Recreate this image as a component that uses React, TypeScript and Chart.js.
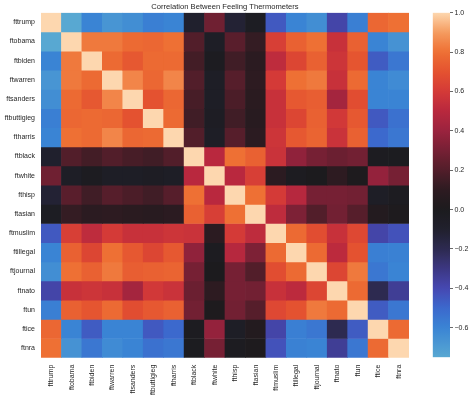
import React, { useEffect, useRef } from 'react';
import { Chart, registerables } from 'chart.js';

Chart.register(...registerables);

// ---- data ----
const variables = [
  'fttrump', 'ftobama', 'ftbiden', 'ftwarren', 'ftsanders', 'ftbuttigieg', 'ftharris',
  'ftblack', 'ftwhite', 'fthisp', 'ftasian', 'ftmuslim', 'ftillegal', 'ftjournal',
  'ftnato', 'ftun', 'ftice', 'ftnra',
];

// upper triangle of the correlation matrix, each row starting at its diagonal
const corrUpper: number[][] = [
  [1, -0.75, -0.6, -0.67, -0.64, -0.58, -0.6, -0.1, 0.28, -0.12, -0.03, -0.45, -0.6, -0.64, -0.38, -0.58, 0.77, 0.8],
  [1, 0.82, 0.82, 0.78, 0.77, 0.8, 0.2, -0.05, 0.22, 0.12, 0.62, 0.75, 0.8, 0.55, 0.75, -0.6, -0.66],
  [1, 0.78, 0.72, 0.78, 0.78, 0.16, -0.02, 0.15, 0.09, 0.52, 0.65, 0.75, 0.57, 0.71, -0.46, -0.55],
  [1, 0.85, 0.77, 0.85, 0.2, -0.05, 0.21, 0.1, 0.6, 0.8, 0.82, 0.55, 0.78, -0.6, -0.63],
  [1, 0.7, 0.77, 0.17, -0.05, 0.18, 0.08, 0.55, 0.72, 0.74, 0.43, 0.68, -0.6, -0.6],
  [1, 0.78, 0.15, -0.04, 0.15, 0.07, 0.55, 0.65, 0.75, 0.59, 0.72, -0.45, -0.53],
  [1, 0.2, -0.05, 0.21, 0.09, 0.57, 0.72, 0.76, 0.56, 0.75, -0.5, -0.55],
  [1, 0.5, 0.8, 0.75, 0.56, 0.37, 0.3, 0.27, 0.29, -0.02, -0.01],
  [1, 0.5, 0.62, 0.09, -0.02, 0.0, 0.1, 0.01, 0.38, 0.3],
  [1, 0.8, 0.6, 0.49, 0.3, 0.3, 0.29, -0.05, -0.02],
  [1, 0.52, 0.32, 0.2, 0.29, 0.21, 0.04, 0.01],
  [1, 0.78, 0.68, 0.55, 0.66, -0.38, -0.43],
  [1, 0.78, 0.51, 0.7, -0.58, -0.59],
  [1, 0.65, 0.82, -0.55, -0.6],
  [1, 0.78, -0.2, -0.34],
  [1, -0.46, -0.55],
  [1, 0.78],
  [1],
];

const colorbarTicks = [1.0, 0.8, 0.6, 0.4, 0.2, 0.0, -0.2, -0.4, -0.6];
const colorbarTickLabels = ['1.0', '0.8', '0.6', '0.4', '0.2', '0.0', '\u22120.2', '\u22120.4', '\u22120.6'];

const titleText = 'Correlation Between Feeling Thermometers';

// diverging colormap (icefire-like), value -> rgb
const cmapStops = [-1, -0.75, -0.6, -0.5, -0.4, -0.3, -0.2, -0.1, 0, 0.1, 0.2, 0.3, 0.4, 0.5, 0.6, 0.7, 0.8, 0.9, 1];
const cmapColors = [
  [189, 231, 219], [88, 168, 210], [58, 132, 212], [60, 105, 205], [70, 72, 178],
  [60, 55, 130], [45, 42, 80], [32, 32, 45], [28, 27, 30], [45, 27, 33],
  [82, 30, 42], [118, 32, 52], [155, 35, 62], [185, 40, 62], [212, 58, 55],
  [228, 82, 48], [238, 112, 52], [245, 155, 95], [253, 215, 175],
];

function colorFor(v: number): string {
  const x = Math.max(-1, Math.min(1, v));
  let k = 0;
  while (k < cmapStops.length - 2 && x > cmapStops[k + 1]) k++;
  const t = (x - cmapStops[k]) / (cmapStops[k + 1] - cmapStops[k]);
  const a = cmapColors[k];
  const b = cmapColors[k + 1];
  const c = a.map((av, i) => Math.round(av + (b[i] - av) * t));
  return `rgb(${c[0]},${c[1]},${c[2]})`;
}

const corr: number[][] = variables.map((_, i) =>
  variables.map((__, j) => (i <= j ? corrUpper[i][j - i] : corrUpper[j][i - j]))
);

const allValues = corr.flat();
const cbMin = Math.min(...allValues);
const cbMax = Math.max(...allValues);

const FONT = "'Liberation Sans', Arial, sans-serif";
const TEXT = '#262626';

export default function App() {
  const heatRef = useRef<HTMLCanvasElement>(null);
  const barRef = useRef<HTMLCanvasElement>(null);

  useEffect(() => {
    const heat = new Chart(heatRef.current as HTMLCanvasElement, {
      type: 'bar',
      data: {
        labels: variables,
        datasets: variables.map((rowName, i) => ({
          label: rowName,
          data: variables.map(() => [i, i + 1]),
          backgroundColor: corr[i].map(colorFor),
          borderWidth: 0,
          barPercentage: 1,
          categoryPercentage: 1,
          grouped: false,
        })),
      } as any,
      options: {
        responsive: false,
        animation: false,
        events: [],
        layout: { padding: 0 },
        plugins: {
          legend: { display: false },
          tooltip: { enabled: false },
          title: {
            display: true,
            text: titleText,
            color: TEXT,
            font: { family: FONT, size: 7.6, weight: 'normal' },
            padding: { top: 2, bottom: 1.6 },
          },
        },
        scales: {
          x: {
            type: 'category',
            position: 'bottom',
            grid: { display: false, drawTicks: false },
            border: { display: false },
            ticks: {
              autoSkip: false,
              maxRotation: 90,
              minRotation: 90,
              padding: 7,
              color: TEXT,
              font: { family: FONT, size: 7 },
            },
            afterFit: (s: any) => { s.height = 41.3; },
          },
          y: {
            type: 'linear',
            position: 'left',
            reverse: true,
            min: 0,
            max: variables.length,
            grid: { display: false, drawTicks: false },
            border: { display: false },
            afterBuildTicks: (s: any) => {
              s.ticks = variables.map((_, i) => ({ value: i + 0.5 }));
            },
            ticks: {
              autoSkip: false,
              padding: 6,
              color: TEXT,
              font: { family: FONT, size: 7 },
              callback: (v: any) => variables[Math.floor(Number(v))],
            },
            afterFit: (s: any) => { s.width = 41; },
          },
          yPad: {
            type: 'linear',
            position: 'right',
            display: true,
            grid: { display: false, drawTicks: false },
            border: { display: false },
            ticks: { display: false },
            afterFit: (s: any) => { s.width = 41; },
          },
        },
      } as any,
    });

    const bar = new Chart(barRef.current as HTMLCanvasElement, {
      type: 'bar',
      data: {
        labels: ['colorbar'],
        datasets: [
          {
            data: [[cbMin, cbMax]],
            borderWidth: 0,
            barPercentage: 1,
            categoryPercentage: 1,
            backgroundColor: (c: any) => {
              const chart = c.chart;
              const { ctx, chartArea, scales } = chart;
              if (!chartArea) return 'rgba(0,0,0,0)';
              const yS = scales.y;
              const y0 = yS.getPixelForValue(cbMin);
              const y1 = yS.getPixelForValue(cbMax);
              const g = ctx.createLinearGradient(0, y0, 0, y1);
              const N = 64;
              for (let k = 0; k <= N; k++) {
                const v = cbMin + ((cbMax - cbMin) * k) / N;
                g.addColorStop(k / N, colorFor(v));
              }
              return g;
            },
          },
        ],
      } as any,
      options: {
        responsive: false,
        animation: false,
        events: [],
        layout: { padding: { left: 12.7, top: 12.7, bottom: 41.7, right: 0 } },
        plugins: { legend: { display: false }, tooltip: { enabled: false } },
        scales: {
          x: { display: false },
          y: {
            type: 'linear',
            position: 'right',
            min: cbMin,
            max: cbMax,
            grid: { display: true, drawOnChartArea: false, drawTicks: true, tickLength: 3, color: '#444', lineWidth: 0.8 },
            border: { display: false },
            afterBuildTicks: (s: any) => {
              s.ticks = colorbarTicks.map((v) => ({ value: v }));
            },
            ticks: {
              padding: 1.5,
              color: TEXT,
              font: { family: FONT, size: 7 },
              callback: (v: any) => {
                const idx = colorbarTicks.findIndex((t) => Math.abs(t - Number(v)) < 1e-6);
                return idx >= 0 ? colorbarTickLabels[idx] : '';
              },
            },
            afterFit: (s: any) => { s.width = 24; },
          },
        },
      } as any,
    });

    return () => {
      heat.destroy();
      bar.destroy();
    };
  }, []);

  return (
    <div style={{ position: 'absolute', left: 0, top: 0, width: 474, height: 399, background: '#fff' }}>
      <canvas ref={heatRef} width={450} height={399} style={{ position: 'absolute', left: 0, top: 0 }} />
      <canvas ref={barRef} width={54} height={399} style={{ position: 'absolute', left: 420, top: 0 }} />
    </div>
  );
}
